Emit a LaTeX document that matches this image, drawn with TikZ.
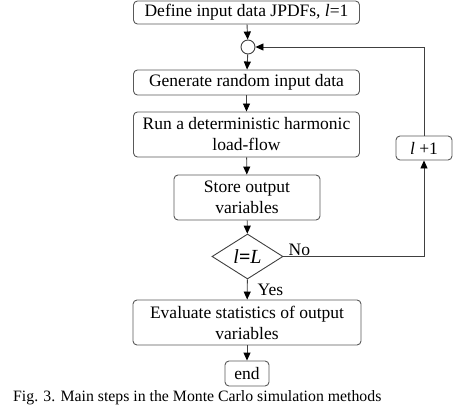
\documentclass[tikz,border=0pt]{standalone}
\usepackage{fontspec}
\setmainfont{Liberation Serif}
\usetikzlibrary{shapes.geometric,arrows.meta}
\begin{document}
\begin{tikzpicture}[x=1pt,y=-1pt,
  box/.style={draw=black!65,rounded corners=4pt,line width=0.9pt,inner sep=0pt,align=center,font=\fontsize{17.5}{21}\selectfont},
  conn/.style={draw=black!75,line width=0.9pt,-{Triangle[length=8pt,width=7pt,color=black,fill=black]}},
  plain/.style={draw=black!75,line width=0.9pt}]
\useasboundingbox (0,0) rectangle (463,417);
\node[box,minimum width=226pt,minimum height=23pt] (b1) at (246.5,12.5) {Define input data JPDFs, \textit{l}=1};
\node[draw=black!75,circle,line width=0.9pt,minimum size=14pt,inner sep=0pt] (c) at (248,47) {};
\node[box,minimum width=226pt,minimum height=25pt] (b2) at (246.5,82.5) {Generate random input data};
\node[box,minimum width=226pt,minimum height=45pt] (b3) at (246.5,134.5) {Run a deterministic harmonic\\load-flow};
\node[box,minimum width=146pt,minimum height=45pt] (b4) at (247,197.5) {Store output\\variables};
\node[draw=black!75,diamond,line width=0.9pt,minimum width=71pt,minimum height=45pt,inner sep=0pt,font=\fontsize{20}{22}\selectfont] (d) at (247.5,256.5) {\textit{l}\textbf{=}\textit{L}};
\node[box,minimum width=228pt,minimum height=45pt] (b5) at (247,322.5) {Evaluate statistics of output\\variables};
\node[box,minimum width=44pt,minimum height=25pt] (e) at (247,373.5) {end};
\node[box,minimum width=56pt,minimum height=24pt] (l1) at (424,148) {\textit{l} +1};
\coordinate (tr) at (424,47);
\node[anchor=west,inner sep=0pt,font=\fontsize{15.8}{18}\selectfont] (cap) at (13,398) {Fig. 3. Main steps in the Monte Carlo simulation methods};
\draw[conn] (b1) -- (c);
\draw[conn] (c) -- (b2);
\draw[conn] (b2) -- (b3);
\draw[conn] (b3) -- (b4);
\draw[conn] (b4) -- (d);
\draw[conn] (d) -- node[right,pos=0.5,inner sep=0pt,xshift=10pt,font=\fontsize{17.5}{21}\selectfont] (yes) {Yes} (b5);
\draw[conn] (b5) -- (e);
\draw[conn] (d.east) -- (d.east -| l1.south) -- (l1.south);
\node[anchor=base west,inner sep=0pt,xshift=5pt,yshift=1.5pt,font=\fontsize{17.5}{21}\selectfont] (no) at (d.east) {No};
\draw[conn] (l1.north) -- (tr) -- (c.east);
\end{tikzpicture}
\end{document}
